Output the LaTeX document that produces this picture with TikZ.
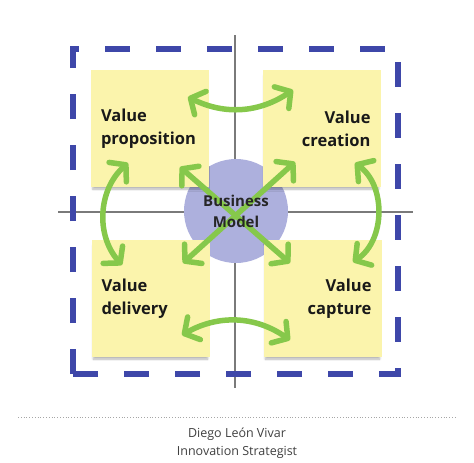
\documentclass[tikz,border=0pt]{standalone}
\usepackage{fontspec}
\setmainfont{Open Sans}
\usepackage{xcolor}
\usetikzlibrary{arrows.meta,shadows.blur}
\definecolor{noteyellow}{HTML}{FBF4AC}
\definecolor{frameblue}{HTML}{3E47A9}
\definecolor{arrowgreen}{HTML}{86C84B}
\definecolor{bmlilac}{HTML}{ADB0DD}
\definecolor{axisgray}{HTML}{7A7A7A}

\begin{document}
\begin{tikzpicture}[x=1pt,y=-1pt]
  \useasboundingbox (0,0) rectangle (474,463);
  \tikzstyle{note}=[rectangle, fill=noteyellow, minimum width=118pt, minimum height=117pt, text width=98pt, inner sep=10pt, font=\bfseries\fontsize{16.5}{23}\selectfont, text=black!90, blur shadow={shadow xshift=0pt, shadow yshift=-4pt, shadow scale=0.97, shadow opacity=30, shadow blur steps=6}]
  \tikzstyle{link}=[line width=5.5pt, arrowgreen, {Straight Barb[length=11pt,width=26pt,round]}-{Straight Barb[length=11pt,width=26pt,round]}, line cap=round, line join=round]
  \tikzstyle{axis}=[axisgray, line width=2.5pt]
  % axes
  \draw[axis] (235,35) -- (235,388);
  \draw[axis] (58,212) -- (413,212);
  % business model
  \node[circle, fill=bmlilac, minimum size=104pt] (bm) at (236,211) {};
  % frame
  \draw[frameblue, line width=6pt, dash pattern=on 25pt off 26pt] (73,374) -- (73,49) -- (398,49) -- (398,374) -- cycle;
  % notes
  \node[note, align=left] (vp) at (150,128.5) {Value\\proposition};
  \node[note, align=right] (vc) at (321.5,128.5) {Value\\creation};
  \node[note, align=left] (vd) at (150.5,298.5) {Value\\delivery};
  \node[note, align=right] (vk) at (322.5,298.5) {Value\\capture};
  % links
  \draw[link] ([shift={(38,-31.5)}]vp.center) to[bend right=30] ([shift={(-28.5,-38.5)}]vc.center);
  \draw[link] ([shift={(33.5,34.5)}]vc.center) to[bend left=55] ([shift={(30.5,-36.5)}]vk.center);
  \draw[link] ([shift={(31.5,36.5)}]vd.center) to[bend left=32] ([shift={(-32.5,41.5)}]vk.center);
  \draw[link] ([shift={(-22,34.5)}]vp.center) to[bend right=45] ([shift={(-28.5,-33.5)}]vd.center);
  \draw[link] ([shift={(30,38.5)}]vp.center) -- ([shift={(-32.5,-35.5)}]vk.center);
  \draw[link] ([shift={(-26.5,33.5)}]vc.center) -- ([shift={(32.5,-35.5)}]vd.center);
  \node[align=center, font=\bfseries\fontsize{15}{21}\selectfont, text=black!85] (bmtext) at (bm.center) {Business\\Model};
  % footer
  \draw[gray!70, line width=0.8pt, dotted] (18,417) -- (456,417);
  \node[font=\fontsize{12.5}{18}\selectfont, text=black!75, align=center] (author) at (237,443) {Diego León Vivar\\Innovation Strategist};
\end{tikzpicture}
\end{document}
